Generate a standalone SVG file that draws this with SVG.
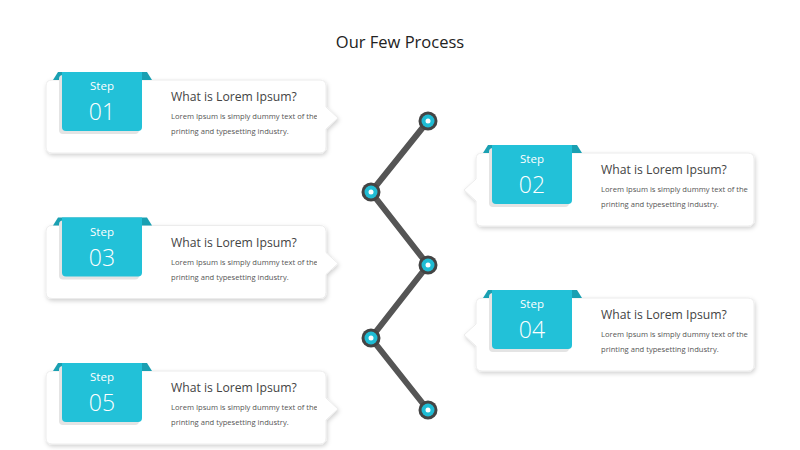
<svg xmlns="http://www.w3.org/2000/svg" width="800" height="450" viewBox="0 0 800 450">
<defs>
<style>
.card{fill:#fff;stroke:#ececec;stroke-width:1;filter:url(#sh)}
.rib{fill:#1aa0b2}
.box{fill:#22c1d8}
.boxsh{fill:#e4e4e4}
.step{font-family:"Open Sans","Liberation Sans",sans-serif;font-size:11.5px;fill:#fff;text-anchor:middle}
.num{font-family:"Open Sans","Liberation Sans",sans-serif;font-size:23px;font-weight:300;fill:#fff;text-anchor:middle}
.ttl{font-family:"Open Sans","Liberation Sans",sans-serif;font-size:12.2px;fill:#444}
.body{font-family:"Open Sans","Liberation Sans",sans-serif;font-size:7.6px;fill:#555}
.link{stroke:#555;stroke-width:6;fill:none;stroke-linecap:round}
.ring{fill:#444}
.dotin{fill:#1fbcd4}
.dotc{fill:#fff}
</style>
<filter id="sh" x="-10%" y="-20%" width="125%" height="150%">
<feDropShadow dx="1" dy="2" stdDeviation="2" flood-color="#000" flood-opacity="0.18"/>
</filter>
<clipPath id="clipL" clipPathUnits="userSpaceOnUse"><rect x="160" y="80" width="157" height="80"/></clipPath>
</defs>
<rect width="800" height="450" fill="#fff"/>
<text x="400" y="48" font-family="'Open Sans','Liberation Sans',sans-serif" font-size="16.5" fill="#222" text-anchor="middle">Our Few Process</text>

<g id="connectors">
<polyline class="link" points="428,121 371,192 428,265 371,338 428,410"/>
</g>

<g id="node-dots">
<g transform="translate(428,121)"><circle class="ring" r="9.5"/><circle class="dotin" r="6.5"/><circle class="dotc" r="2.5"/></g>
<g transform="translate(371,192)"><circle class="ring" r="9.5"/><circle class="dotin" r="6.5"/><circle class="dotc" r="2.5"/></g>
<g transform="translate(428,265)"><circle class="ring" r="9.5"/><circle class="dotin" r="6.5"/><circle class="dotc" r="2.5"/></g>
<g transform="translate(371,338)"><circle class="ring" r="9.5"/><circle class="dotin" r="6.5"/><circle class="dotc" r="2.5"/></g>
<g transform="translate(428,410)"><circle class="ring" r="9.5"/><circle class="dotin" r="6.5"/><circle class="dotc" r="2.5"/></g>
</g>

<g id="step1">
<path class="card" d="M52,80 H320 Q326,80 326,86 V107 L338,118 L326,129 V147 Q326,153 320,153 H52 Q46,153 46,147 V86 Q46,80 52,80 Z"/>
<polygon class="rib" points="53,80 58,72 147,72 152,80"/>
<rect class="boxsh" x="59" y="75" width="80" height="59" rx="4"/>
<path class="box" d="M62,72 H142 V127 Q142,131 138,131 H66 Q62,131 62,127 Z"/>
<text class="step" x="102" y="90">Step</text>
<text class="num" x="102" y="120">01</text>
<text class="ttl" x="171" y="101">What is Lorem Ipsum?</text>
<g clip-path="url(#clipL)">
<text class="body" x="171" y="119">Lorem Ipsum is simply dummy text of the</text>
</g>
<text class="body" x="171" y="134">printing and typesetting industry.</text>
</g>

<g id="step2" transform="translate(430,73)">
<path class="card" d="M52,80 H318 Q324,80 324,86 V147 Q324,153 318,153 H52 Q46,153 46,147 V128 L34,117 L46,106 V86 Q46,80 52,80 Z"/>
<polygon class="rib" points="53,80 58,72 147,72 152,80"/>
<rect class="boxsh" x="59" y="75" width="80" height="59" rx="4"/>
<path class="box" d="M62,72 H142 V127 Q142,131 138,131 H66 Q62,131 62,127 Z"/>
<text class="step" x="102" y="90">Step</text>
<text class="num" x="102" y="120">02</text>
<text class="ttl" x="171" y="101">What is Lorem Ipsum?</text>
<text class="body" x="171" y="119">Lorem Ipsum is simply dummy text of the</text>
<text class="body" x="171" y="134">printing and typesetting industry.</text>
</g>

<g id="step3" transform="translate(0,145.5)">
<path class="card" d="M52,80 H320 Q326,80 326,86 V107 L338,118 L326,129 V147 Q326,153 320,153 H52 Q46,153 46,147 V86 Q46,80 52,80 Z"/>
<polygon class="rib" points="53,80 58,72 147,72 152,80"/>
<rect class="boxsh" x="59" y="75" width="80" height="59" rx="4"/>
<path class="box" d="M62,72 H142 V127 Q142,131 138,131 H66 Q62,131 62,127 Z"/>
<text class="step" x="102" y="90">Step</text>
<text class="num" x="102" y="120">03</text>
<text class="ttl" x="171" y="101">What is Lorem Ipsum?</text>
<g clip-path="url(#clipL)">
<text class="body" x="171" y="119">Lorem Ipsum is simply dummy text of the</text>
</g>
<text class="body" x="171" y="134">printing and typesetting industry.</text>
</g>

<g id="step4" transform="translate(430,218)">
<path class="card" d="M52,80 H318 Q324,80 324,86 V147 Q324,153 318,153 H52 Q46,153 46,147 V128 L34,117 L46,106 V86 Q46,80 52,80 Z"/>
<polygon class="rib" points="53,80 58,72 147,72 152,80"/>
<rect class="boxsh" x="59" y="75" width="80" height="59" rx="4"/>
<path class="box" d="M62,72 H142 V127 Q142,131 138,131 H66 Q62,131 62,127 Z"/>
<text class="step" x="102" y="90">Step</text>
<text class="num" x="102" y="120">04</text>
<text class="ttl" x="171" y="101">What is Lorem Ipsum?</text>
<text class="body" x="171" y="119">Lorem Ipsum is simply dummy text of the</text>
<text class="body" x="171" y="134">printing and typesetting industry.</text>
</g>

<g id="step5" transform="translate(0,291)">
<path class="card" d="M52,80 H320 Q326,80 326,86 V107 L338,118 L326,129 V147 Q326,153 320,153 H52 Q46,153 46,147 V86 Q46,80 52,80 Z"/>
<polygon class="rib" points="53,80 58,72 147,72 152,80"/>
<rect class="boxsh" x="59" y="75" width="80" height="59" rx="4"/>
<path class="box" d="M62,72 H142 V127 Q142,131 138,131 H66 Q62,131 62,127 Z"/>
<text class="step" x="102" y="90">Step</text>
<text class="num" x="102" y="120">05</text>
<text class="ttl" x="171" y="101">What is Lorem Ipsum?</text>
<g clip-path="url(#clipL)">
<text class="body" x="171" y="119">Lorem Ipsum is simply dummy text of the</text>
</g>
<text class="body" x="171" y="134">printing and typesetting industry.</text>
</g>
</svg>
